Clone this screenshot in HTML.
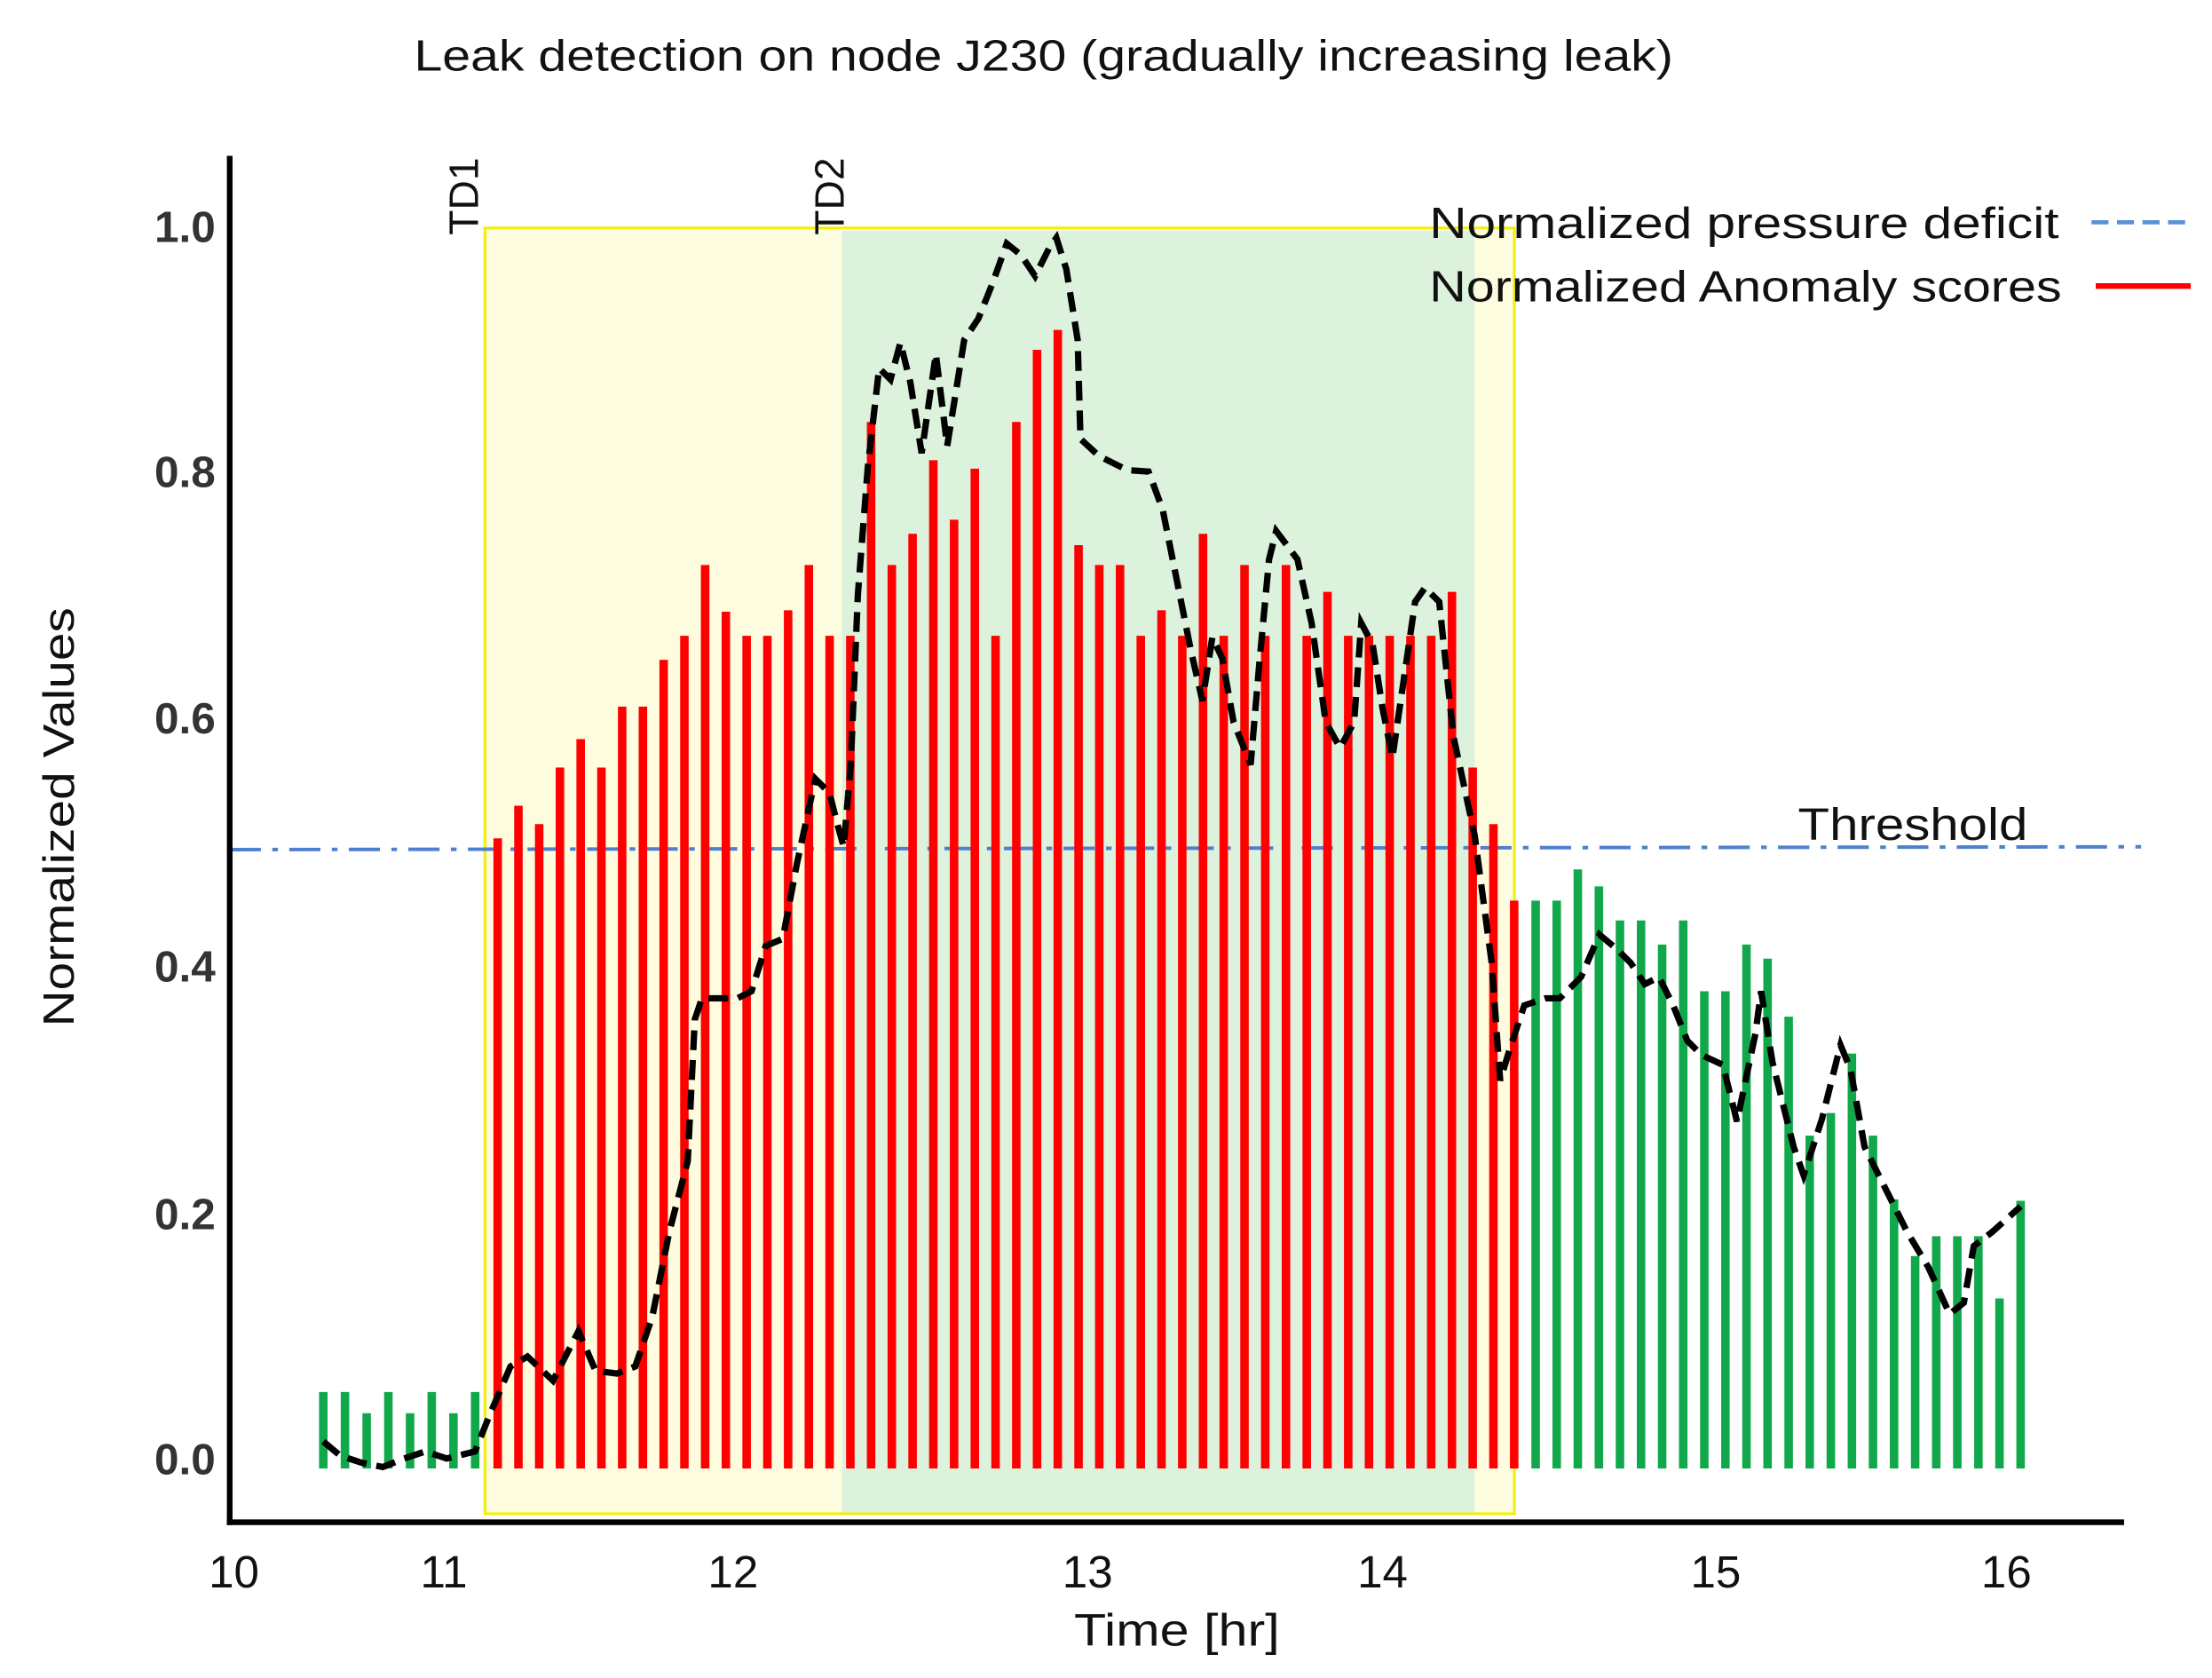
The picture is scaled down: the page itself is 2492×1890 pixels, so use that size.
<!DOCTYPE html>
<html><head><meta charset="utf-8"><style>
html,body{margin:0;padding:0;background:#fff}
svg{display:block}
text{font-family:"Liberation Sans",sans-serif}
</style></head><body>
<svg width="2492" height="1890" viewBox="0 0 1560 1185" preserveAspectRatio="none" xmlns="http://www.w3.org/2000/svg">
<rect width="1560" height="1185" fill="#fff"/>
<text x="292" y="50" font-size="31" fill="#111" textLength="888" lengthAdjust="spacingAndGlyphs">Leak detection on node J230 (gradually increasing leak)</text>
<rect x="342" y="161" width="726" height="908" fill="#fdfcdf" stroke="#f2ee10" stroke-width="2"/>
<rect x="594" y="163" width="446" height="905" fill="#dcf2dc"/>
<line x1="162" y1="600" x2="1510" y2="598" stroke="#4f7fd0" stroke-width="2.5" stroke-dasharray="22,8,4,8"/>
<text x="1268" y="593" font-size="32" fill="#111" textLength="162" lengthAdjust="spacingAndGlyphs">Threshold</text>
<g id="bars" stroke-width="6"></g>
<polyline id="dl" fill="none" stroke="#000" stroke-width="4.5" stroke-dasharray="14,7" points=""/>
<line x1="162" y1="110" x2="162" y2="1077" stroke="#000" stroke-width="4"/>
<line x1="160" y1="1075" x2="1498" y2="1075" stroke="#000" stroke-width="4"/>
<g font-size="31" fill="#333" font-weight="bold" text-anchor="end">
<text x="152" y="171">1.0</text><text x="152" y="344">0.8</text><text x="152" y="518">0.6</text>
<text x="152" y="693">0.4</text><text x="152" y="868">0.2</text><text x="152" y="1041">0.0</text>
</g>
<g font-size="32" fill="#111" text-anchor="middle">
<text x="165" y="1121">10</text><text x="313" y="1121">11</text><text x="517" y="1121">12</text>
<text x="767" y="1121">13</text><text x="975" y="1121">14</text><text x="1210" y="1121">15</text><text x="1415" y="1121">16</text>
<text x="830" y="1162" textLength="145" lengthAdjust="spacingAndGlyphs">Time [hr]</text>
</g>
<text transform="translate(52,577) rotate(-90)" font-size="31" fill="#111" text-anchor="middle" textLength="296" lengthAdjust="spacingAndGlyphs">Normalized Values</text>
<text transform="translate(337,166) rotate(-90)" font-size="29" fill="#111">TD1</text>
<text transform="translate(595,166) rotate(-90)" font-size="29" fill="#111">TD2</text>
<text x="1008" y="168" font-size="31" fill="#111" textLength="444" lengthAdjust="spacingAndGlyphs">Normalized pressure deficit</text>
<text x="1008" y="213" font-size="31" fill="#111" textLength="446" lengthAdjust="spacingAndGlyphs">Normalized Anomaly scores</text>
<line x1="1475" y1="157" x2="1545" y2="157" stroke="#5b8fd8" stroke-width="3" stroke-dasharray="12,6"/>
<line x1="1478" y1="202" x2="1545" y2="202" stroke="#f00" stroke-width="4"/>
</svg>
<script>
var ns="http://www.w3.org/2000/svg",g=document.getElementById("bars");
function bar(x,top,c){var l=document.createElementNS(ns,"line");l.setAttribute("x1",x);l.setAttribute("x2",x);l.setAttribute("y1",top);l.setAttribute("y2",1037);l.setAttribute("stroke",c);g.appendChild(l);}
var lg=[983,983,998,983,998,983,998,983];
lg.forEach(function(t,i){bar(228+i*15.3,t,"#10a84a");});
var red=[592,569,582,542,522,542,499,499,466,449,399,432,449,449,431,399,449,449,298,399,377,325,367,331,449,298,247,233,385,399,399,449,431,449,377,449,399,449,399,449,418,449,449,449,449,449,418,542,582,636];
red.forEach(function(t,i){bar(351+i*14.63,t,"#f00");});
var gr=[636,636,614,626,650,650,667,650,700,700,667,677,718,802,786,744,802,847,887,873,873,873,917,848];
gr.forEach(function(t,i){bar(1083+i*14.87,t,"#10a84a");});
var pts=[[228,1018],[240,1028],[255,1033],[270,1036],[285,1030],[300,1025],[315,1030],[335,1025],[345,1000],[360,965],[372,958],[390,975],[408,940],[420,968],[435,970],[448,965],[460,930],[472,870],[485,820],[490,720],[495,705],[520,705],[530,700],[540,668],[552,663],[562,610],[575,550],[585,560],[590,580],[595,598],[600,540],[605,420],[612,330],[620,260],[628,268],[635,242],[642,270],[650,320],[660,250],[668,315],[680,240],[690,225],[700,200],[710,172],[720,180],[730,195],[740,175],[745,168],[752,190],[760,240],[762,310],[775,322],[795,332],[810,333],[820,360],[830,410],[840,460],[848,495],[855,450],[862,465],[870,510],[882,540],[888,470],[895,395],[900,375],[915,395],[925,440],[935,510],[945,528],[955,510],[960,440],[968,455],[975,500],[982,535],[990,480],[998,425],[1005,415],[1015,425],[1025,520],[1040,590],[1052,680],[1058,763],[1065,740],[1075,710],[1090,705],[1100,705],[1115,690],[1128,660],[1140,670],[1150,680],[1160,695],[1170,690],[1180,710],[1190,735],[1200,745],[1215,752],[1225,792],[1238,730],[1242,700],[1250,750],[1265,810],[1272,830],[1285,790],[1298,738],[1305,755],[1315,810],[1330,840],[1345,870],[1360,895],[1375,928],[1385,920],[1392,880],[1405,870],[1425,852]];
document.getElementById("dl").setAttribute("points",pts.map(function(p){return p.join(",")}).join(" "));
</script>
</body></html>
